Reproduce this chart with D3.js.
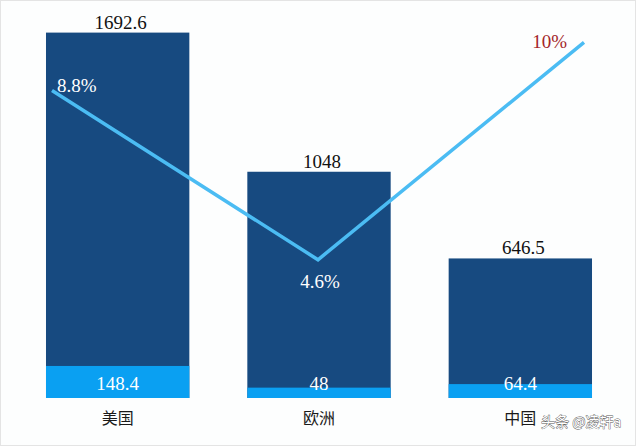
<!DOCTYPE html>
<html>
<head>
<meta charset="utf-8">
<script src="https://cdn.jsdelivr.net/npm/d3@7"></script>
<style>
  body { margin: 0; background: #fff; }
  svg { display: block; }
</style>
</head>
<body>
<svg id="chart" width="640" height="446"></svg>
<script>
// data
const regions = ["美国", "欧洲", "中国"];
const totals = [1692.6, 1048, 646.5];
const parts = [148.4, 48, 64.4];
const growth = [8.8, 4.6, 10];

const svg = d3.select("#chart");
const height = +svg.attr("height");

// faint frame like the screenshot
svg.append("rect")
  .attr("x", 0.5).attr("y", 0.5)
  .attr("width", 635).attr("height", height - 1)
  .attr("fill", "#fdfefe")
  .attr("stroke", "#e4e4e4");

const x = d3.scaleBand()
  .domain(regions)
  .range([17, 621])
  .paddingInner(0.288)
  .paddingOuter(0.144);

const y = d3.scaleLinear()
  .domain([0, 1700])
  .range([398, 31]);

// line uses its own point scale, wider than the bars
const xl = d3.scalePoint()
  .domain(regions)
  .range([52, 584]);

const y2 = d3.scaleLinear()
  .domain([0, 11])
  .range([445, 2]);

const serif = "'Liberation Serif', 'DejaVu Serif', serif";
const cjk = "'Noto Sans CJK SC', sans-serif";

const g = svg.append("g");

// totals
g.selectAll(".bar")
  .data(regions)
  .enter().append("rect")
  .attr("class", "bar")
  .attr("x", d => x(d))
  .attr("y", (d, i) => y(totals[i]))
  .attr("width", x.bandwidth())
  .attr("height", (d, i) => y(0) - y(totals[i]))
  .attr("fill", "#174a80");

// sub segment at the bottom
g.selectAll(".part")
  .data(regions)
  .enter().append("rect")
  .attr("class", "part")
  .attr("x", d => x(d))
  .attr("y", (d, i) => y(parts[i]))
  .attr("width", x.bandwidth())
  .attr("height", (d, i) => y(0) - y(parts[i]))
  .attr("fill", "#0aa0f2");

// total labels
g.selectAll(".tot")
  .data(regions)
  .enter().append("text")
  .attr("class", "tot")
  .attr("x", d => x(d) + x.bandwidth() / 2 + 3)
  .attr("y", (d, i) => y(totals[i]) - 4)
  .attr("text-anchor", "middle")
  .attr("font-family", serif)
  .attr("font-size", 19)
  .attr("fill", "#111")
  .text((d, i) => totals[i]);

// part labels
g.selectAll(".plab")
  .data(regions)
  .enter().append("text")
  .attr("class", "plab")
  .attr("x", d => x(d) + x.bandwidth() / 2)
  .attr("y", 390)
  .attr("text-anchor", "middle")
  .attr("font-family", serif)
  .attr("font-size", 19)
  .attr("fill", "#fff")
  .text((d, i) => parts[i]);

// category axis labels
g.selectAll(".cat")
  .data(regions)
  .enter().append("text")
  .attr("class", "cat")
  .attr("x", d => x(d) + x.bandwidth() / 2)
  .attr("y", 424)
  .attr("text-anchor", "middle")
  .attr("font-family", cjk)
  .attr("font-size", 16)
  .attr("fill", "#1a1a1a")
  .text(d => d);

// growth line
const line = d3.line()
  .x((d, i) => xl(regions[i]))
  .y(d => y2(d));

g.append("path")
  .datum(growth)
  .attr("d", line)
  .attr("fill", "none")
  .attr("stroke", "#4bbcf3")
  .attr("stroke-width", 3.5);

// growth labels
const gl = g.selectAll(".glab")
  .data(growth)
  .enter().append("text")
  .attr("class", "glab")
  .attr("font-family", serif)
  .attr("font-size", 19)
  .text(d => d + "%");

gl.filter((d, i) => i === 0)
  .attr("x", () => xl(regions[0]) + 5)
  .attr("y", d => y2(d) + 1)
  .attr("fill", "#fff");

gl.filter((d, i) => i === 1)
  .attr("x", () => xl(regions[1]) + 2)
  .attr("y", d => y2(d) + 28)
  .attr("text-anchor", "middle")
  .attr("fill", "#fff");

gl.filter((d, i) => i === 2)
  .attr("x", () => xl(regions[2]) - 17)
  .attr("y", d => y2(d) + 6)
  .attr("text-anchor", "end")
  .attr("fill", "#a3262a");

// watermark
svg.append("text")
  .attr("x", 541)
  .attr("y", 427)
  .attr("font-family", cjk)
  .attr("font-size", 14)
  .attr("fill", "#fff")
  .attr("stroke", "#555")
  .attr("stroke-width", 0.8)
  .attr("paint-order", "stroke")
  .text("头条 @凌轩a");
</script>
</body>
</html>
